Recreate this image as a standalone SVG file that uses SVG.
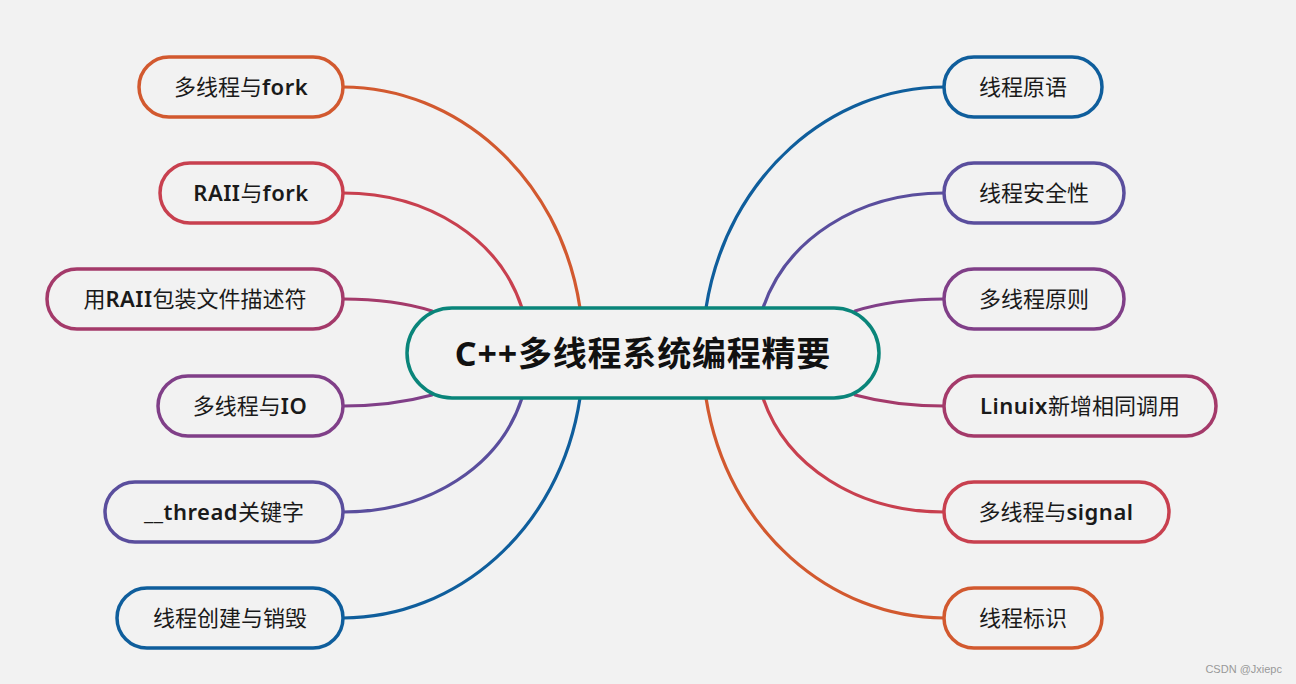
<svg xmlns="http://www.w3.org/2000/svg" width="1296" height="684" viewBox="0 0 1296 684">
<style>
.bg{fill:#f2f2f2}
.node{fill:#f2f2f2;stroke-width:3.5}
.c{fill:none;stroke-width:3.2;stroke-linecap:round}
.t{font-family:"Noto Sans CJK SC","Noto Sans",sans-serif;font-size:22px;fill:#1a1a1a;text-anchor:middle}
.l{font-family:"Noto Sans","Open Sans",sans-serif;font-weight:600;letter-spacing:0.5px}
.main{font-family:"Noto Sans CJK SC","Noto Sans",sans-serif;font-size:34px;font-weight:700;fill:#111;text-anchor:middle;letter-spacing:0.8px}
.orange{stroke:#d2592f}.red{stroke:#c8404f}.mag{stroke:#a43a6a}.pur{stroke:#803f88}.ind{stroke:#5a4e9d}.blue{stroke:#0f5e9c}
</style>
<rect class="bg" x="0" y="0" width="1296" height="684"/>
<g id="connectors">
<path class="c orange" d="M343,87 C455,87 560,175 580,308"/>
<path class="c red" d="M343,193 C430,193 500,240 522,308"/>
<path class="c mag" d="M343,299 C385,299 410,304 432,311"/>
<path class="c pur" d="M343,406 C385,406 410,401 432,395"/>
<path class="c ind" d="M343,512 C430,512 500,466 522,398"/>
<path class="c blue" d="M343,618 C455,618 560,531 580,398"/>
<path class="c blue" d="M944,87 C832,87 727,175 706,308"/>
<path class="c ind" d="M944,193 C857,193 786,240 763,308"/>
<path class="c pur" d="M944,299 C902,299 877,304 855,311"/>
<path class="c mag" d="M944,406 C902,406 877,401 855,395"/>
<path class="c red" d="M944,512 C857,512 786,466 763,398"/>
<path class="c orange" d="M944,618 C832,618 727,531 706,398"/>
</g>
<g id="center">
<rect class="node" x="407" y="308" width="472" height="90" rx="45" stroke="#0a857a"/>
<text class="main" x="643" y="366"><tspan font-family="Noto Sans,sans-serif">C++</tspan>多线程系统编程精要</text>
</g>
<g id="n-l1">
<rect class="node orange" x="139" y="57" width="204" height="60" rx="30"/>
<text class="t" x="241" y="95">多线程与<tspan class="l">fork</tspan></text>
</g>
<g id="n-l2">
<rect class="node red" x="160" y="163" width="183" height="60" rx="30"/>
<text class="t" x="251" y="201"><tspan class="l">RAII</tspan>与<tspan class="l">fork</tspan></text>
</g>
<g id="n-l3">
<rect class="node mag" x="47" y="269" width="296" height="60" rx="30"/>
<text class="t" x="195" y="307">用<tspan class="l">RAII</tspan>包装文件描述符</text>
</g>
<g id="n-l4">
<rect class="node pur" x="158" y="376" width="185" height="60" rx="30"/>
<text class="t" x="250" y="414">多线程与<tspan class="l">IO</tspan></text>
</g>
<g id="n-l5">
<rect class="node ind" x="105" y="482" width="238" height="60" rx="30"/>
<text class="t" x="224" y="520"><tspan class="l">__thread</tspan>关键字</text>
</g>
<g id="n-l6">
<rect class="node blue" x="117" y="588" width="226" height="60" rx="30"/>
<text class="t" x="230" y="626">线程创建与销毁</text>
</g>
<g id="n-r1">
<rect class="node blue" x="944" y="57" width="158" height="60" rx="30"/>
<text class="t" x="1023" y="95">线程原语</text>
</g>
<g id="n-r2">
<rect class="node ind" x="944" y="163" width="180" height="60" rx="30"/>
<text class="t" x="1034" y="201">线程安全性</text>
</g>
<g id="n-r3">
<rect class="node pur" x="944" y="269" width="180" height="60" rx="30"/>
<text class="t" x="1034" y="307">多线程原则</text>
</g>
<g id="n-r4">
<rect class="node mag" x="944" y="376" width="272" height="60" rx="30"/>
<text class="t" x="1080" y="414"><tspan class="l">Linuix</tspan>新增相同调用</text>
</g>
<g id="n-r5">
<rect class="node red" x="944" y="482" width="225" height="60" rx="30"/>
<text class="t" x="1056" y="520">多线程与<tspan class="l">signal</tspan></text>
</g>
<g id="n-r6">
<rect class="node orange" x="944" y="588" width="158" height="60" rx="30"/>
<text class="t" x="1023" y="626">线程标识</text>
</g>
<text x="1282" y="673" font-family="Liberation Sans,Arial,sans-serif" font-size="11" fill="#999" text-anchor="end">CSDN @Jxiepc</text>
</svg>
